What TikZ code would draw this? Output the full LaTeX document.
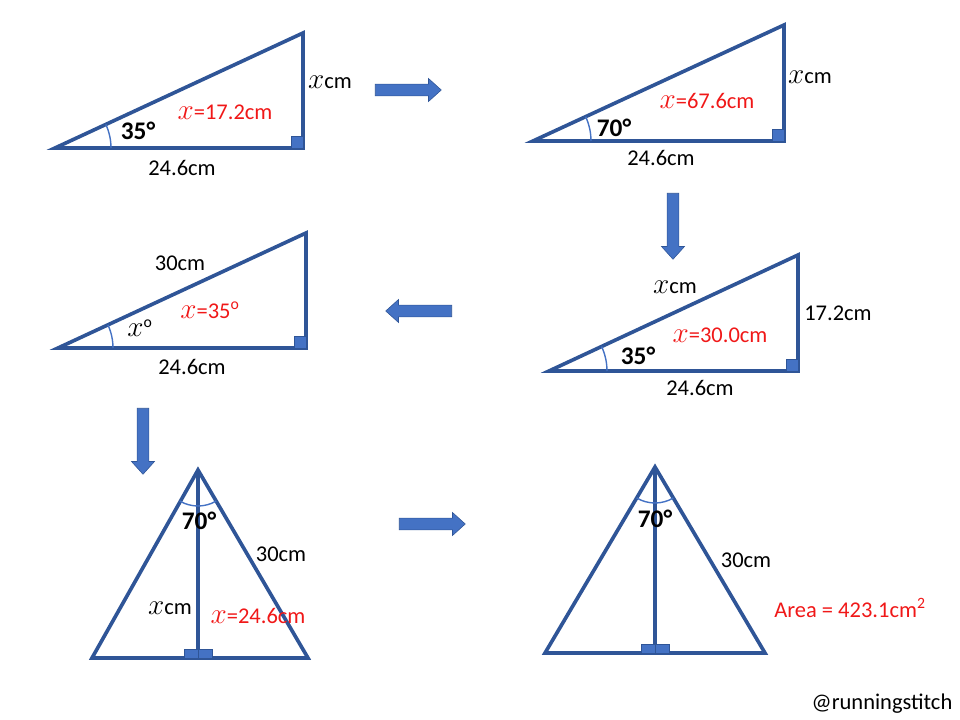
\documentclass[tikz,border=0pt]{standalone}
\usepackage{fontspec}
\setmainfont{Carlito}
\usetikzlibrary{shapes.arrows}
\definecolor{lineblue}{HTML}{2F5597}
\definecolor{fillblue}{HTML}{4472C4}
\definecolor{ansred}{HTML}{F01818}
\newcommand{\xvar}{{\fontsize{20}{22}\selectfont$x$}}
\begin{document}
\begin{tikzpicture}[x=0.025cm,y=-0.025cm,
  every node/.style={inner sep=0pt,font=\fontsize{16}{19}\selectfont},
  tri/.style={draw=lineblue,line width=2.6pt,line join=miter},
  rightang/.style={fill=fillblue,draw=lineblue,line width=0.5pt},
  angarc/.style={draw=fillblue,line width=1pt},
  angtext/.style={font=\fontsize{18}{21}\selectfont\bfseries},
  anstext/.style={text=ansred},
  blockarrow/.style={single arrow,fill=fillblue,draw=lineblue,line width=0.4pt,
    minimum height=1.65cm,inner xsep=0pt,inner ysep=0.14cm,
    single arrow head extend=0.14cm,single arrow tip angle=84},
  downarrow/.style={blockarrow,shape border rotate=270,inner xsep=0.14cm,inner ysep=0pt}]
\useasboundingbox (0,0) rectangle (960,720);
% first triangle
\coordinate (A1) at (55,148);
\coordinate (B1) at (303,148);
\coordinate (C1) at (303,33);
\draw[tri] (A1) -- (B1) -- (C1) -- cycle;
\draw[rightang] (B1) rectangle +(-12,-12);
\draw[angarc] (A1) ++(0:56) arc (0:-24.9:56);
\node[angtext] (ang1) at (138,131) {35°};
\node[anstext] (ans1) at (225,112) {\xvar=17.2cm};
\node (side1) at (330,82) {\xvar cm};
\node (base1) at (182,168) {24.6cm};
\node[blockarrow] (arr1) at (405,90) {};
% second triangle
\coordinate (A2) at (533,141);
\coordinate (B2) at (784,141);
\coordinate (C2) at (784,25);
\draw[tri] (A2) -- (B2) -- (C2) -- cycle;
\draw[rightang] (B2) rectangle +(-12,-12);
\draw[angarc] (A2) ++(0:58) arc (0:-24.8:58);
\node[angtext] (ang2) at (614,128) {70°};
\node[anstext] (ans2) at (707,101) {\xvar=67.6cm};
\node (side2) at (810,77) {\xvar cm};
\node (base2) at (661,158) {24.6cm};
\node[downarrow] (arr2) at (673,223) {};
% third triangle
\coordinate (A3) at (549,371);
\coordinate (B3) at (798,371);
\coordinate (C3) at (798,255);
\draw[tri] (A3) -- (B3) -- (C3) -- cycle;
\draw[rightang] (B3) rectangle +(-12,-12);
\draw[angarc] (A3) ++(0:58) arc (0:-25:58);
\node[angtext] (ang3) at (638,356) {35°};
\node[anstext] (ans3) at (720,335) {\xvar=30.0cm};
\node (hyp3) at (675,287) {\xvar cm};
\node (side3) at (838,313) {17.2cm};
\node (base3) at (700,388) {24.6cm};
\node[blockarrow,shape border rotate=180] (arr3) at (422,311) {};
% fourth triangle
\coordinate (A4) at (58,348);
\coordinate (B4) at (306,348);
\coordinate (C4) at (306,233);
\draw[tri] (A4) -- (B4) -- (C4) -- cycle;
\draw[rightang] (B4) rectangle +(-12,-12);
\draw[angarc] (A4) ++(0:55) arc (0:-24.9:55);
\node (ang4) at (140,328) {\xvar\textsuperscript{o}};
\node[anstext] (ans4) at (210,310) {\xvar=35\textsuperscript{o}};
\node (hyp4) at (180,263) {30cm};
\node (base4) at (192,367) {24.6cm};
\node[downarrow] (arr4) at (143,438) {};
% fifth triangle
\coordinate (T5) at (198,470);
\coordinate (L5) at (92,658);
\coordinate (R5) at (308,658);
\coordinate (M5) at (198,658);
\draw[tri] (L5) -- (R5) -- (T5) -- cycle;
\draw[tri] (T5) -- (M5);
\draw[rightang] (M5) rectangle +(-14,-9);
\draw[rightang] (M5) rectangle +(14,-9);
\draw[angarc] (T5) ++(59.6:36) arc (59.6:120.4:36);
\node[angtext] (ang5) at (199,521) {70°};
\node (hyp5) at (281,554) {30cm};
\node (alt5) at (170,608) {\xvar cm};
\node[anstext] (ans5) at (258,616) {\xvar=24.6cm};
\node[blockarrow] (arr5) at (429,524) {};
% sixth triangle
\coordinate (T6) at (655,467);
\coordinate (L6) at (545,653);
\coordinate (R6) at (765,653);
\coordinate (M6) at (655,653);
\draw[tri] (L6) -- (R6) -- (T6) -- cycle;
\draw[tri] (T6) -- (M6);
\draw[rightang] (M6) rectangle +(-14,-9);
\draw[rightang] (M6) rectangle +(14,-9);
\draw[angarc] (T6) ++(59.4:36) arc (59.4:120.6:36);
\node[angtext] (ang6) at (655,519) {70°};
\node (hyp6) at (746,560) {30cm};
\node[anstext] (area6) at (850,608) {Area = 423.1cm\textsuperscript{2}};
\node (credit) at (882,704) {@runningstitch};
\end{tikzpicture}
\end{document}
